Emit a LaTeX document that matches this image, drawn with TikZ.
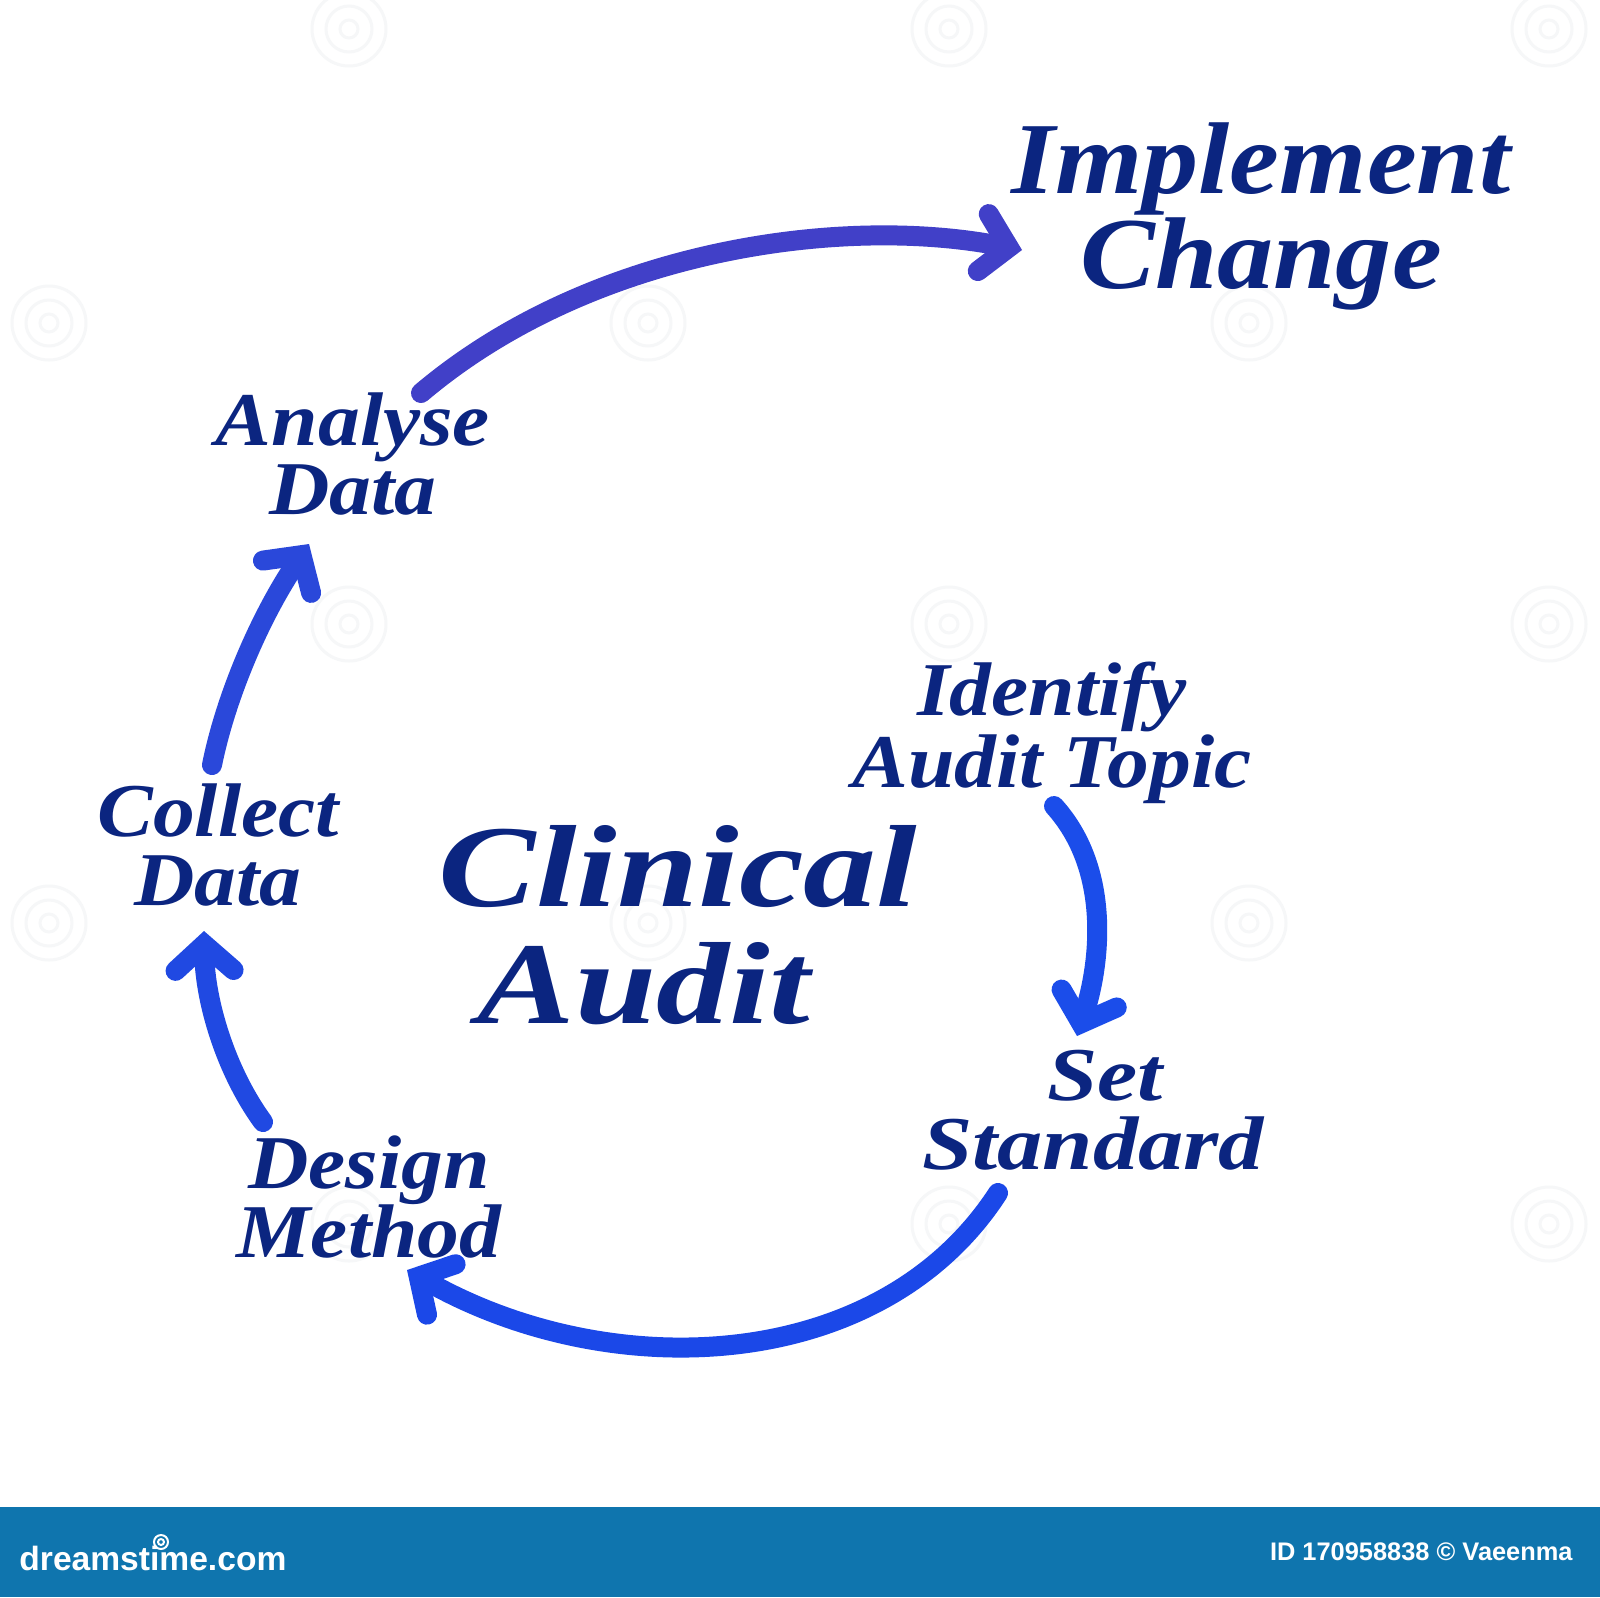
\documentclass[tikz,border=0pt]{standalone}
\usepackage{fontspec}
\usetikzlibrary{arrows.meta}
\newfontfamily\handfont[FakeStretch=1.1]{Liberation Serif}
\newfontfamily\handwide[FakeStretch=1.25]{Liberation Serif}
\newfontfamily\handstd[FakeStretch=1.19]{Liberation Serif}
\setsansfont{Liberation Sans}
\definecolor{ink}{HTML}{0B2580}
\definecolor{barblue}{HTML}{0F75AE}
\definecolor{wm}{HTML}{F6F7F8}
\definecolor{aone}{HTML}{1B4DEA}
\definecolor{atwo}{HTML}{1B48E8}
\definecolor{athree}{HTML}{2049E2}
\definecolor{afour}{HTML}{2A48DA}
\definecolor{afive}{HTML}{4140C8}
\tikzset{
  x=0.5pt,y=-0.5pt,
  lbl/.style={text=ink,align=center,anchor=base,inner sep=0pt,font=\handfont\bfseries\itshape\fontsize{38}{34.5}\selectfont},
  biglbl/.style={text=ink,align=center,anchor=base,inner sep=0pt,font=\handwide\bfseries\itshape\fontsize{58.4}{58.5}\selectfont},
  midlbl/.style={text=ink,align=center,anchor=base,inner sep=0pt,font=\handfont\bfseries\itshape\fontsize{51}{45}\selectfont},
  conn/.style={line width=10pt,line cap=round,-{Straight Barb[length=13pt,width=29pt,line cap=round,line join=miter]}},
  bartext/.style={text=white,anchor=base west,inner sep=0pt,font=\sffamily\bfseries},
}
\begin{document}
\begin{tikzpicture}
\useasboundingbox (0,0) rectangle (1600,1597);
\fill[white] (0,0) rectangle (1600,1597);
% faint watermark spirals
\foreach \mx/\my in {49/323,648/323,1249/323,349/624,949/624,1549/624,49/923,648/923,1249/923,349/29,949/29,1549/29,949/1224,1549/1224,349/1224}{
  \draw[wm,line width=1.5pt] (\mx,\my) circle (37);
  \draw[wm,line width=1.5pt] (\mx,\my) circle (23);
  \draw[wm,line width=1.5pt] (\mx,\my) circle (9);
}
% bottom bar
\fill[barblue] (0,1507) rectangle (1600,1597);
\node[bartext,font=\sffamily\bfseries\fontsize{16.8}{16.8}\selectfont] (brand) at (19,1570) {dreamstime.com};
\draw[white,line width=1pt] (161,1542) circle (7);
\draw[white,line width=1pt] (161,1542) circle (3);
\node[bartext,anchor=base east,font=\sffamily\bfseries\fontsize{12.7}{12.7}\selectfont] (credit) at (1573,1560) {ID 170958838 © Vaeenma};
% labels
\node[midlbl] (impl) at (1261,288) {Implement\\Change};
\node[lbl] (topic) at (1052,787) {Identify\\Audit Topic};
\node[lbl,font=\handstd\bfseries\itshape\fontsize{38}{34.5}\selectfont] (setstd) at (1093,1169) {\hspace*{12pt}Set\\Standard};
\node[lbl] (design) at (369,1257) {Design\\Method};
\node[lbl] (collect) at (218,905) {Collect\\Data};
\node[lbl] (analyse) at (353,514) {Analyse\\Data};
\node[biglbl] (clin) at (678,1023) {Clinical\\Audit\hspace*{34pt}};
% connectors
\draw[conn,aone] ([shift={(2,19)}]topic.base) .. controls (1112,870) and (1100,965) .. ([shift={(-16,-133)}]setstd.base);
\draw[conn,atwo] ([shift={(-95,24)}]setstd.base) .. controls (880,1375) and (610,1385) .. ([shift={(38,13)}]design.base);
\draw[conn,athree] ([shift={(-106,-135)}]design.base) .. controls (225,1070) and (205,1000) .. ([shift={(-14,26)}]collect.base);
\draw[conn,afour] ([shift={(-6,-140)}]collect.base) .. controls (225,700) and (258,620) .. ([shift={(-44,30)}]analyse.base);
\draw[conn,afive] ([shift={(68,-121)}]analyse.base) .. controls (590,250) and (840,215) .. ([shift={(-239,-38)}]impl.base);
\end{tikzpicture}
\end{document}
